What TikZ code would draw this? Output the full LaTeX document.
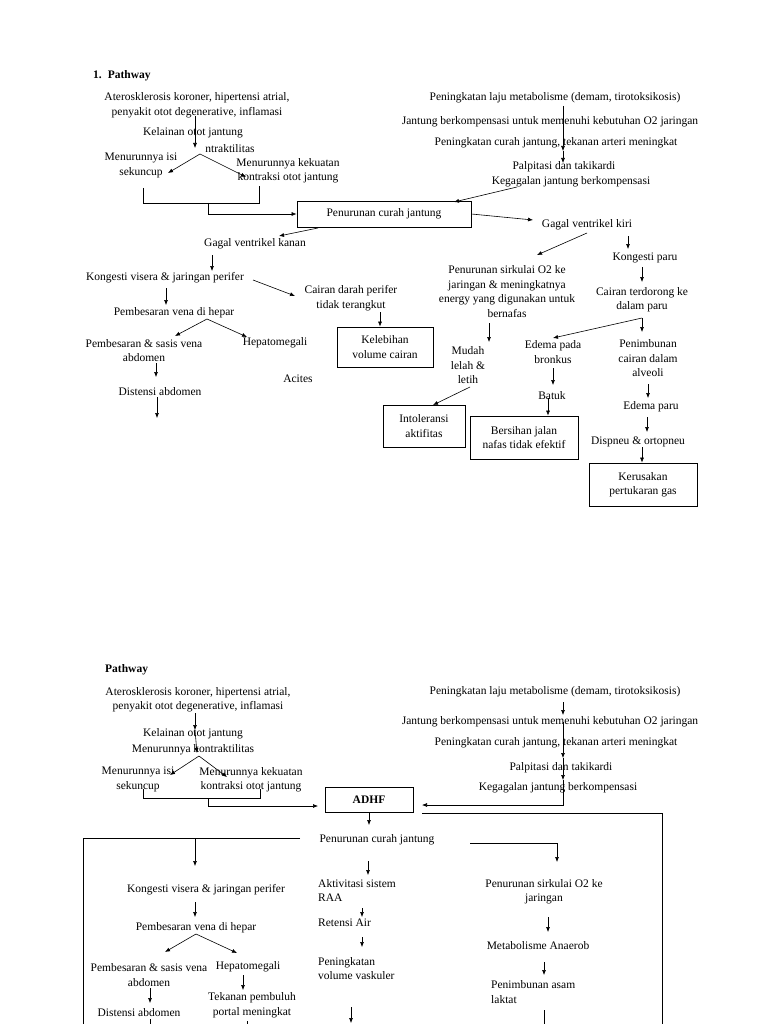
\documentclass[tikz,border=0pt]{standalone}
\usepackage{fontspec}
\setmainfont{Liberation Serif}
\usetikzlibrary{positioning,
                calc,
                arrows.meta}

\begin{document}
\begin{tikzpicture}[x=1pt,y=-1pt]
                % define styles
\tikzset{txt/.style={font=\fontsize{11.5}{14.5}\selectfont,
                     align=center,
                     inner sep=1pt},
         txtl/.style={txt,
                      align=left,
                      anchor=west},
         judul/.style={txt,
                       font=\fontsize{11.5}{14.5}\selectfont\bfseries,
                       anchor=west},
         kotak/.style={txt,
                       draw=black,
                       line width=0.8pt},
         arr/.style={-{Latex[length=5pt,width=4pt]},
                     line width=0.6pt},
         ln/.style={line width=0.6pt}
}

\useasboundingbox[fill=white] (0,0) rectangle (768,1024);

% ---------- first pathway: nodes
\node[judul]  (judul1) at (92,76)     {1.\hspace{6pt}Pathway};
\node[txt]    (ater1)  at (197,105.5) {Aterosklerosis koroner, hipertensi atrial,\\penyakit otot degenerative, inflamasi};
\node[txt]    (kel1)   at (193,133)   {Kelainan otot jantung};
\node[txt]    (ntr1)   at (230,149)   {ntraktilitas};
\node[txt]    (isi1)   at (141,165.5) {Menurunnya isi\\sekuncup};
\node[txt]    (kek1)   at (288,171)   {Menurunnya kekuatan\\kontraksi otot jantung};
\node[kotak, minimum width=174pt, minimum height=26pt] (pcj1) at (384,214) {Penurunan curah jantung};
\node[txt]    (gvka1)  at (255,244)   {Gagal ventrikel kanan};

\node[txt]    (laju1)  at (555,98)    {Peningkatan laju metabolisme (demam, tirotoksikosis)};
\node[txt]    (komp1)  at (550,122)   {Jantung berkompensasi untuk memenuhi kebutuhan O2 jaringan};
\node[txt]    (curah1) at (556,143)   {Peningkatan curah jantung, tekanan arteri meningkat};
\node[txt]    (palp1)  at (564,167)   {Palpitasi dan takikardi};
\node[txt]    (gagal1) at (571,182)   {Kegagalan jantung berkompensasi};
\node[txt]    (gvki1)  at (587,225)   {Gagal ventrikel kiri};
\node[txt]    (kparu1) at (645,258)   {Kongesti paru};

\node[txt]    (kong1)  at (165,278)   {Kongesti visera \& jaringan perifer};
\node[txt]    (cair1)  at (351,298)   {Cairan darah perifer\\tidak terangkut};
\node[kotak, minimum width=96pt, minimum height=40pt] (keleb1) at (385,347) {Kelebihan\\volume cairan};
\node[txt]    (vena1)  at (174,313)   {Pembesaran vena di hepar};
\node[txt]    (sasis1) at (144,350.5) {Pembesaran \& sasis vena\\abdomen};
\node[txt]    (hepa1)  at (275,343)   {Hepatomegali};
\node[txt]    (dist1)  at (160,392)   {Distensi abdomen};
\node[txt]    (acites1) at (298,379)  {Acites};

\node[txt]    (sirk1)  at (507,291.5) {Penurunan sirkulai O2 ke\\jaringan \& meningkatnya\\energy yang digunakan untuk\\bernafas};
\node[txt]    (mudah1) at (468,365.5) {Mudah\\lelah \&\\letih};
\node[kotak, minimum width=82pt, minimum height=42pt] (intol1) at (424,426) {Intoleransi\\aktifitas};
\node[txt]    (terd1)  at (642,299.5) {Cairan terdorong ke\\dalam paru};
\node[txt]    (edb1)   at (553,352)   {Edema pada\\bronkus};
\node[txt]    (penimb1) at (648,358.5) {Penimbunan\\cairan dalam\\alveoli};
\node[txt]    (batuk1) at (552,396)   {Batuk};
\node[kotak, minimum width=108pt, minimum height=43pt] (bersih1) at (524,437.5) {Bersihan jalan\\nafas tidak efektif};
\node[txt]    (edp1)   at (651,407)   {Edema paru};
\node[txt]    (disp1)  at (638,442)   {Dispneu \& ortopneu};
\node[kotak, minimum width=108pt, minimum height=43pt] (kerus1) at (643,484.5) {Kerusakan\\pertukaran gas};

% ---------- first pathway: arrow points
\foreach \n/\x/\y in {t1a/195/116, t1b/195/148, bc1/200/154, isi1e/168/173, kek1e/246/177,
                      br1a/143/188, br1b/143/203, br1c/259/203, br1d/259/186, br1m/208/203,
                      t6a/318/228, t6b/279/236, t7a/517/187, t7b/454/202, t8b/533/220,
                      t9a/563/106, t9b/563/151, t9c/563/163, t10a/587/233, t10b/537/255,
                      t11a/628/236, t11b/628/249, t12a/212/255, t12b/212/271,
                      t13a/253/280, t13b/295/296, t14a/380/312, t15a/166/288, t15b/166/305,
                      bc2/207/319, sas1e/175/336, hep1e/247/337,
                      t17a/156/363, t17b/156/377, t18a/157/397, t18b/157/418,
                      t19a/489/323, t19b/489/342, t20a/470/387, t20b/433/405,
                      t21a/642/267, t21b/642/282, bc3/642/318, edb1e/553/338, pen1e/642/332,
                      t23a/553/368, t23b/553/385, t24a/548/398,
                      t25a/648/384, t25b/648/398, t26a/647/417, t26b/647/432, t27a/642/447}
    \coordinate (\n) at (\x,\y);

% ---------- first pathway: connectors
\draw[arr] (t1a) -- (t1b);
\draw[arr] (bc1) -- (isi1e);
\draw[arr] (bc1) -- (kek1e);
\draw[ln]  (br1a) -- (br1b) -- (br1c) -- (br1d);
\draw[arr] (br1m) |- (pcj1.west);
\draw[arr] (t6a) -- (t6b);
\draw[arr] (t7a) -- (t7b);
\draw[arr] (pcj1.east) -- (t8b);
\draw[arr] (t9a) -- (t9b);
\draw[arr] (t9b) -- (t9c);
\draw[arr] (t10a) -- (t10b);
\draw[arr] (t11a) -- (t11b);
\draw[arr] (t12a) -- (t12b);
\draw[arr] (t13a) -- (t13b);
\draw[arr] (t14a) -- (t14a |- keleb1.north);
\draw[arr] (t15a) -- (t15b);
\draw[arr] (bc2) -- (sas1e);
\draw[arr] (bc2) -- (hep1e);
\draw[arr] (t17a) -- (t17b);
\draw[arr] (t18a) -- (t18b);
\draw[arr] (t19a) -- (t19b);
\draw[arr] (t20a) -- (t20b);
\draw[arr] (t21a) -- (t21b);
\draw[arr] (bc3) -- (edb1e);
\draw[arr] (bc3) -- (pen1e);
\draw[arr] (t23a) -- (t23b);
\draw[arr] (t24a) -- (t24a |- bersih1.north);
\draw[arr] (t25a) -- (t25b);
\draw[arr] (t26a) -- (t26b);
\draw[arr] (t27a) -- (t27a |- kerus1.north);

% ---------- second pathway: nodes
\node[judul]  (judul2) at (104,670)   {Pathway};
\node[txt]    (ater2)  at (198,699.5) {Aterosklerosis koroner, hipertensi atrial,\\penyakit otot degenerative, inflamasi};
\node[txt]    (kel2)   at (193,734)   {Kelainan otot jantung};
\node[txt]    (kon2)   at (193,750)   {Menurunnya kontraktilitas};
\node[txt]    (isi2)   at (138,779.5) {Menurunnya isi\\sekuncup};
\node[txt]    (kek2)   at (251,779.5) {Menurunnya kekuatan\\kontraksi otot jantung};
\node[kotak, font=\fontsize{11.5}{14.5}\selectfont\bfseries,
      minimum width=88pt, minimum height=25pt] (adhf) at (369,799.5) {ADHF};

\node[txt]    (laju2)  at (555,692)   {Peningkatan laju metabolisme (demam, tirotoksikosis)};
\node[txt]    (komp2)  at (550,722)   {Jantung berkompensasi untuk memenuhi kebutuhan O2 jaringan};
\node[txt]    (curah2) at (556,743)   {Peningkatan curah jantung, tekanan arteri meningkat};
\node[txt]    (palp2)  at (561,768)   {Palpitasi dan takikardi};
\node[txt]    (gagal2) at (558,788)   {Kegagalan jantung berkompensasi};

\node[txt]    (pcj2)   at (377,840)   {Penurunan curah jantung};
\node[txt]    (kong2)  at (206,890)   {Kongesti visera \& jaringan perifer};
\node[txt]    (vena2)  at (196,928)   {Pembesaran vena di hepar};
\node[txt]    (sasis2) at (149,975)   {Pembesaran \& sasis vena\\abdomen};
\node[txt]    (hepa2)  at (248,967)   {Hepatomegali};
\node[txt]    (tek2)   at (252,1005)  {Tekanan pembuluh\\portal meningkat};
\node[txt]    (dist2)  at (139,1013)  {Distensi abdomen};
\node[txtl]   (raa2)   at (317,890.5) {Aktivitasi sistem\\RAA};
\node[txtl]   (ret2)   at (317,923)   {Retensi Air};
\node[txtl]   (vol2)   at (317,968.5) {Peningkatan\\volume vaskuler};
\node[txt]    (sirk2)  at (544,891.5) {Penurunan sirkulai O2 ke\\jaringan};
\node[txt]    (anaer2) at (538,946)   {Metabolisme Anaerob};
\node[txtl]   (laktat2) at (490,992)  {Penimbunan asam\\laktat};

% ---------- second pathway: arrow points
\foreach \n/\x/\y in {b1a/195/713, b1b/195/730, b1c/197/753, bc4/199/756, isi2e/170/775, kek2e/227/777,
                      br2a/143/789, br2b/143/798, br2c/260/798, br2d/260/789, br2m/208/798, b4e/318/806,
                      b6b/369/825,
                      b7a/563/702, b7b/563/715, b7c/563/722, b7d/563/758, b7e/563/780, b7f/563/805, b7g/422/805,
                      b8a/422/813, b8b/662/813, b8c/662/1030,
                      b9a/300/838, b9b/83/838, b9c/83/1030, b9m/195/838, b9e/195/866,
                      b10a/470/843, b10b/557/843, b10c/557/862,
                      b11a/368/861, b11b/368/875, b12a/362/908, b12b/362/917, b13a/362/937, b13b/362/947,
                      b14a/351/1007, b14b/351/1023, b15a/195/902, b15b/195/917,
                      bc5/196/934, sas2e/165/952, hep2e/237/953,
                      b17a/243/975, b17b/243/990, b18a/150/988, b18b/150/1003,
                      b19a/150/1019, b19b/150/1034, b23a/247/1021, b23b/247/1034,
                      b20a/548/917, b20b/548/932, b21a/544/962, b21b/544/975, b22a/544/1010, b22b/544/1030}
    \coordinate (\n) at (\x,\y);

% ---------- second pathway: connectors
\draw[arr] (b1a) -- (b1b);
\draw[arr] (b1b) -- (b1c);
\draw[arr] (bc4) -- (isi2e);
\draw[arr] (bc4) -- (kek2e);
\draw[ln]  (br2a) -- (br2b) -- (br2c) -- (br2d);
\draw[arr] (br2m) |- (b4e);
\draw[arr] (adhf.south) -- (b6b);
\draw[arr] (b7a) -- (b7b);
\draw[arr] (b7c) -- (b7d);
\draw[arr] (b7d) -- (b7e);
\draw[arr] (b7e) -- (b7f) -- (b7g);
\draw[ln]  (b8a) -- (b8b) -- (b8c);
\draw[ln]  (b9a) -- (b9b) -- (b9c);
\draw[arr] (b9m) -- (b9e);
\draw[arr] (b10a) -- (b10b) -- (b10c);
\draw[arr] (b11a) -- (b11b);
\draw[arr] (b12a) -- (b12b);
\draw[arr] (b13a) -- (b13b);
\draw[arr] (b14a) -- (b14b);
\draw[arr] (b15a) -- (b15b);
\draw[arr] (bc5) -- (sas2e);
\draw[arr] (bc5) -- (hep2e);
\draw[arr] (b17a) -- (b17b);
\draw[arr] (b18a) -- (b18b);
\draw[arr] (b19a) -- (b19b);
\draw[arr] (b23a) -- (b23b);
\draw[arr] (b20a) -- (b20b);
\draw[arr] (b21a) -- (b21b);
\draw[arr] (b22a) -- (b22b);

\end{tikzpicture}
\end{document}
